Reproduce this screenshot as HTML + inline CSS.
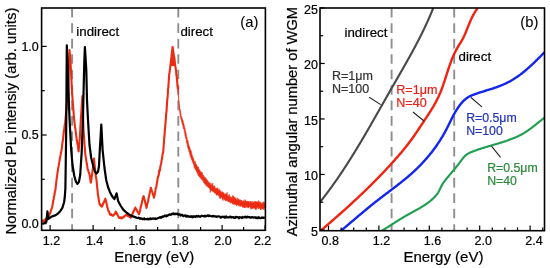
<!DOCTYPE html>
<html><head><meta charset="utf-8">
<style>
html,body{margin:0;padding:0;background:#fff;}
body{width:550px;height:268px;overflow:hidden;position:relative;}
svg{position:absolute;left:0;top:0;will-change:transform;}
.dash{stroke:#8e8e8e;stroke-width:1.9;stroke-dasharray:9.6 5.85;stroke-dashoffset:0.6;}
.tk{stroke:#000;stroke-width:1.2;}
.cv{fill:none;stroke-width:2.4;stroke-linecap:butt;stroke-linejoin:round;}
.ld{stroke:#222;stroke-width:1.1;}
text{font-family:"Liberation Sans",sans-serif;}
</style></head><body>
<svg width="550" height="268" viewBox="0 0 550 268">
<line x1="72.1" y1="8.5" x2="72.1" y2="230" class="dash"/>
<line x1="178.3" y1="8.5" x2="178.3" y2="230" class="dash"/>
<path d="M42 221.37 42.3 221.61 42.6 221.09 42.9 220.89 43.2 220.43 43.5 220.64 43.8 221.16 44.1 220.66 44.4 220.82 44.7 220.27 45 220.2 45.3 219.94 45.6 218.87 45.9 219.98 46.2 219.58 46.5 219.32 46.8 217.96 47.1 217.68 47.4 217.85 47.7 217.8 48 217.93 48.3 217.32 48.6 216.84 48.9 215.49 49.2 215.2 49.5 214.47 49.8 213.18 50.1 213.6 50.4 212.26 50.7 211.81 51 210.14 51.3 209.32 51.6 208.75 51.9 208.1 52.2 207.13 52.5 205.3 52.8 203.32 53.1 201.43 53.4 200.01 53.7 199.25 54 196.6 54.3 195.53 54.6 194.04 54.9 191.49 55.2 190.67 55.5 189.71 55.8 185.99 56.1 183.84 56.4 180.95 56.7 178.19 57 176.75 57.3 174.37 57.6 171.57 57.9 170.61 58.2 168.43 58.5 166.47 58.8 165.17 59.1 163.08 59.4 161.41 59.7 159.16 60 158.57 60.3 156.53 60.6 155.03 60.9 153.23 61.2 151.77 61.5 150.36 61.8 148.81 62.1 145.44 62.4 143.25 62.7 141.39 63 139.38 63.3 136.75 63.6 133.64 63.9 131.09 64.2 129.58 64.5 126.88 64.8 124.4 65.1 122.66 65.4 120.33 65.7 116.83 66 113.65 66.3 110.49 66.6 107.62 66.9 103.31 67.2 97.66 67.5 92.04 67.8 86.2 68.1 82.05 68.4 76.67 68.7 70 69 62.5 69.3 55 69.5 50 69.6 51.11 69.9 54.44 70.2 57.78 70.5 61.87 70.8 67.11 71.1 73.61 71.4 79.45 71.7 85.67 72 91.46 72.3 95.65 72.6 99.58 72.9 103.98 73.2 107.3 73.5 111.13 73.8 115.31 74.1 118.76 74.4 121.3 74.7 124.2 75 126.7 75.3 128.48 75.6 130.54 75.9 133.26 76.2 135.61 76.5 137.91 76.8 140.28 77.1 141.41 77.4 143.95 77.7 145.05 78 147.05 78.3 149.33 78.6 151.34 78.9 148.26 79.2 145.1 79.5 142.04 79.8 138.23 80.1 132.9 80.4 127.22 80.7 121.9 81 117.17 81.3 112.5 81.6 108 81.9 103.5 82.2 99 82.4 96 82.5 99.09 82.8 108.36 83.1 117.64 83.4 126.91 83.7 133 84 136.7 84.3 141 84.6 145.52 84.9 148.29 85.2 152.8 85.5 155.8 85.8 157.69 86.1 159.48 86.4 161.12 86.7 163.29 87 165.02 87.3 166.62 87.6 169.08 87.9 169.5 88.2 170.27 88.5 171.45 88.8 172.45 89.1 173.55 89.4 173.79 89.7 175.51 90 177.7 90.3 179.15 90.6 181.58 90.9 182.64 91.2 180.69 91.5 178.95 91.8 176.06 92.1 174.54 92.4 172.18 92.7 169.88 93 167.11 93.3 164.53 93.6 161.94 93.9 159.36 94 158.5 94.2 160.52 94.5 163.56 94.8 166.6 95.1 169.64 95.4 172.63 95.7 175.35 96 177.29 96.3 178.86 96.6 180.97 96.9 184.43 97.2 187.27 97.5 189.85 97.8 193.74 98.1 195.16 98.4 197.57 98.7 199.02 99 200.94 99.3 202.91 99.6 204.1 99.9 204.64 100.2 204.4 100.5 204.81 100.8 205.86 101.1 205.79 101.4 206.18 101.7 206.46 102 206.62 102.3 205.79 102.6 205.35 102.9 203.96 103.2 203.58 103.5 202.57 103.8 202.48 104.1 202.06 104.4 200.92 104.7 200.25 105 199.59 105.3 198.92 105.4 198.7 105.6 199.54 105.9 200.81 106.2 202.07 106.5 203.34 106.8 204.72 107.1 205.99 107.4 207.58 107.7 208.09 108 209.55 108.3 210.46 108.6 211.25 108.9 211.56 109.2 212.2 109.5 213.53 109.8 214.07 110.1 214.44 110.4 214.98 110.7 214.62 111 214.16 111.3 214.88 111.6 214.59 111.9 215.55 112.2 215.55 112.5 215.42 112.8 215.75 113.1 215.8 113.4 215.21 113.7 215.21 114 214.42 114.3 214.39 114.6 214.15 114.9 213.82 115.2 212.76 115.5 212.86 115.8 211.66 116.1 212.12 116.4 212.38 116.7 213.81 117 213.64 117.3 214.52 117.6 214.99 117.9 215.56 118.2 215.91 118.5 216.68 118.8 217.66 119.1 217.37 119.4 217.59 119.7 217.81 120 217.53 120.3 217.3 120.6 217.59 120.9 218.16 121.2 217.42 121.5 217.81 121.8 218.38 122.1 218.2 122.4 217.76 122.7 217.8 123 217.4 123.3 216.79 123.6 216.47 123.9 216.54 124.2 216.81 124.5 216.16 124.8 215.85 125.1 215.69 125.4 215.25 125.7 215.47 126 214.95 126.3 215.21 126.6 214.54 126.9 215.49 127.2 215.35 127.5 215.1 127.8 216.05 128.1 215.9 128.4 215.46 128.7 216.01 129 216.51 129.3 216.43 129.6 216.95 129.9 217.08 130.2 217.21 130.5 217.25 130.8 217.7 131.1 216.85 131.4 216.14 131.7 214.73 132 214.98 132.3 214.46 132.6 213.33 132.9 212.63 133.2 212.71 133.5 210.95 133.8 210.97 134.1 210.91 134.4 209.26 134.7 209.1 135 208.81 135.3 207.56 135.6 208.31 135.9 208.96 136.2 208.96 136.5 209.75 136.8 210.4 137.1 211.11 137.4 211.39 137.7 211.89 138 212.18 138.3 212.92 138.6 213.84 138.9 214.15 139.2 213.22 139.5 211.98 139.8 211.79 140.1 210.1 140.4 208.7 140.7 206.5 141 206.22 141.3 204.94 141.6 204.06 141.9 202.44 142.2 201.05 142.5 199.99 142.8 198.01 143.1 197.66 143.4 196.21 143.7 196.28 144 198.08 144.3 199.42 144.6 199.64 144.9 201.05 145.2 202.53 145.5 203.69 145.8 204.7 146.1 205.72 146.4 207.84 146.7 207.02 147 205.01 147.3 203.62 147.6 203.2 147.9 201.64 148.2 200.55 148.5 198.91 148.8 197.07 149.1 196.06 149.4 194 149.7 193.08 150 191.92 150.3 191.02 150.6 188.74 150.9 187.85 151.2 188.54 151.5 189.53 151.8 190.78 152.1 191.51 152.4 192.16 152.7 194.04 153 194.54 153.3 194.93 153.6 196.13 153.9 197.65 154.2 196.89 154.5 195.55 154.8 193.89 155.1 192.48 155.4 190.71 155.7 188.33 156 188.05 156.3 186.98 156.6 184.97 156.9 182.97 157.2 181.9 157.5 179.3 157.8 177.15 158.1 177.33 158.4 175.3 158.7 175.27 159 172.62 159.3 170.17 159.6 170.08 159.9 170.76 160.2 168 160.5 165.97 160.8 164.61 161.1 163.75 161.4 161.91 161.7 159.85 162 159.01 162.3 156.6 162.6 154.23 162.9 152.88 163.2 151.85 163.5 148.23 163.8 144.52 164.1 139.19 164.4 136.14 164.7 133.05 165 128.53 165.3 125.8 165.6 121.7 165.9 118.18 166.2 113.55 166.5 111.75 166.8 106.9 167.1 101.94 167.4 98.29 167.7 96.3 168 90.23 168.3 87.27 168.6 83.48 168.9 78.88 169.2 74.12 169.5 72.67 169.8 70.33 170.1 68.44 170.4 65.7 170.7 62.67 171 60.82 171.3 58.11 171.6 55.24 171.9 52.76 172.2 50.29 172.5 47.82 172.6 47 172.8 48.4 173.1 50.5 173.4 52.6 173.7 54.7 174 56.47 174.3 57.39 174.6 60.49 174.9 63.53 175.2 65.62 175.5 67.26 175.8 69.23 176.1 70.44 176.4 74.97 176.7 76.55 177 80.21 177.3 82.73 177.6 86.57 177.9 89.26" fill="none" stroke="#ec2c12" stroke-width="2.1" stroke-linejoin="round"/>
<path d="M172.5 46.26 172.85 47.27 173.2 50.48 173.55 52.73 173.9 55.58 174.25 56.38 174.6 58.87 174.95 61.93 175.3 64.86 175.65 68.05 176 69.69 176.35 71.95 176.7 74.89 177.05 79 177.4 81.91 177.75 86.76 178.1 90.25 178.45 94.53 178.8 100.41 179.15 104.22 179.5 105.44 179.85 109.78 180.2 109.45 180.55 111.49 180.9 114.24 181.25 116.17 181.6 116.87 181.95 117.79 182.3 119.05 182.65 120.01 183 120.42 183.35 122.44 183.7 123.04 184.05 124.77 184.4 126.48 184.75 127.6 185.1 129.16 185.45 130.73 185.8 132.19 186.15 133.41 186.5 136.39 186.85 137.15 187.2 138.82 187.55 141.26 187.9 140.29 188.25 142.69 188.6 143.98 188.95 145.39 189.3 145.91 189.65 146.75 190 148.34 190.35 150.06 190.7 150.34 191.05 150.45 191.4 152.06 191.75 153.8 192.1 154.83 192.45 156.14 192.8 156.66 193.15 157.8 193.5 158.99 193.85 159.34 194.2 160.89 194.55 161.32 194.9 162.01 195.25 161.73 195.6 163.42 195.95 164.85 196.3 164.32 196.65 164.55 197 165.93 197.35 167.44 197.7 166.63 198.05 167.59 198.4 166.88 198.75 168.88 199.1 169.57 199.45 169.98 199.8 169.66 200.15 172.4 200.5 171.44 200.85 171.52 201.2 172.36 201.55 172.44 201.9 171.85 202.25 172.81 202.6 174.33 202.95 175.5 203.3 176.06 203.65 175.24 204 177.17 204.35 176.88 204.7 177.57 205.05 177.57 205.4 177.56 205.75 178.36 206.1 178.32 206.45 180.16 206.8 179.48 207.15 180.44 207.5 180.41 207.85 180.92 208.2 181.15 208.55 181.97 208.9 182.98 209.25 182.78 209.6 182.48 209.95 184.42 210.3 183.47 210.65 185.18 211 183.28 211.35 184.63 211.7 185.44 212.05 185.1 212.4 185.22 212.75 183.07 213.1 185.43 213.45 186.27 213.8 186.44 214.15 187.46 214.5 185.65 214.85 186.27 215.2 188.43 215.55 188.43 215.9 188.26 216.25 188.3 216.6 188.35 216.95 189.14 217.3 188.32 217.65 187.67 218 189.35 218.35 190.03 218.7 191.66 219.05 188.66 219.4 189.97 219.75 190.48 220.1 191.21 220.45 190.6 220.8 191.02 221.15 192.1 221.5 193.01 221.85 192.52 222.2 191.51 222.55 192.84 222.9 192.7 223.25 192.1 223.6 193.54 223.95 192.96 224.3 193.62 224.65 194.33 225 194.15 225.35 193.86 225.7 194.09 226.05 194.92 226.4 193.69 226.75 194.07 227.1 192.34 227.45 194.91 227.8 196.05 228.15 195.6 228.5 195.75 228.85 196.89 229.2 194.37 229.55 196.7 229.9 197.11 230.25 196.77 230.6 196.81 230.95 197.13 231.3 196.8 231.65 197.93 232 198.54 232.35 198.42 232.7 195.35 233.05 197.47 233.4 195.94 233.75 196.58 234.1 197.62 234.45 196.95 234.8 198.18 235.15 199.16 235.5 198.3 235.85 197.59 236.2 198.87 236.55 200.03 236.9 199.92 237.25 199.49 237.6 197.79 237.95 199.25 238.3 199.3 238.65 199.29 239 199.43 239.35 199.91 239.7 199.66 240.05 200.96 240.4 199.67 240.75 200.77 241.1 201.02 241.45 200.75 241.8 200.03 242.15 201.59 242.5 201.95 242.85 201.15 243.2 200.67 243.55 200.68 243.9 201.04 244.25 202.33 244.6 201.45 244.95 199.49 245.3 201.41 245.65 200.7 246 200.72 246.35 201.67 246.7 201.19 247.05 201.79 247.4 200.9 247.75 201.77 248.1 201.94 248.45 201.18 248.8 201.55 249.15 201.33 249.5 202.33 249.85 202.42 250.2 201.35 250.55 201.76 250.9 201.37 251.25 202.68 251.6 201.75 251.95 201.73 252.3 201.27 252.65 202.78 253 202.58 253.35 202.6 253.7 201.87 254.05 202.52 254.4 201.27 254.75 202.49 255.1 202.61 255.45 201.28 255.8 201.64 256.15 201.55 256.5 202.14 256.85 201.69 257.2 201.83 257.55 201.66 257.9 202.77 258.25 201.97 258.6 200.56 258.95 203.29 259.3 201.47 259.65 203.23 260 202.44 260.35 201.88 260.7 203.54 261.05 202.62 261.4 203.4 261.75 203.81 262.1 203.5 262.45 202.56 262.8 204.5 263.15 203.16 263.5 201.75 263.85 203.14 264.2 202.25 264.55 202.3 264.9 203.27 L264.9 208.04 264.55 208.36 264.2 208.39 263.85 209.93 263.5 207.94 263.15 209.16 262.8 208.61 262.45 208.11 262.1 208.98 261.75 208.43 261.4 209.58 261.05 208.45 260.7 210.01 260.35 208.64 260 208.41 259.65 207.45 259.3 208.46 258.95 208.43 258.6 208.9 258.25 207.83 257.9 207.62 257.55 207.63 257.2 207.74 256.85 209.3 256.5 208.55 256.15 207.92 255.8 210.05 255.45 208.53 255.1 207.63 254.75 208.72 254.4 208.05 254.05 208.31 253.7 207.46 253.35 208.01 253 208.55 252.65 207.97 252.3 208.54 251.95 208.8 251.6 208.68 251.25 208.11 250.9 209.29 250.55 207.28 250.2 207.41 249.85 206.63 249.5 207.12 249.15 206.02 248.8 207.48 248.45 208.13 248.1 206.87 247.75 206.92 247.4 207.57 247.05 206.66 246.7 206.21 246.35 207.3 246 206.7 245.65 207.64 245.3 206.31 244.95 207.5 244.6 207.04 244.25 207.99 243.9 206.53 243.55 207.22 243.2 207.1 242.85 207.54 242.5 206.84 242.15 206.82 241.8 205.58 241.45 205.77 241.1 206.28 240.75 205.98 240.4 205.94 240.05 206.54 239.7 204.83 239.35 205.36 239 206.34 238.65 204.92 238.3 204.84 237.95 205.09 237.6 204.66 237.25 204.78 236.9 205.17 236.55 206.13 236.2 203.99 235.85 205.01 235.5 204.48 235.15 203.38 234.8 204.21 234.45 203.25 234.1 204.91 233.75 202.84 233.4 203.77 233.05 203.6 232.7 204.25 232.35 203.7 232 203.44 231.65 202.43 231.3 202.63 230.95 201.43 230.6 202.61 230.25 203.35 229.9 202.09 229.55 201.02 229.2 202.19 228.85 201.94 228.5 201.47 228.15 201.53 227.8 200.3 227.45 201.28 227.1 201.15 226.75 200.78 226.4 200.02 226.05 199.99 225.7 201.19 225.35 200.04 225 199.68 224.65 199.04 224.3 199.47 223.95 200.38 223.6 198.44 223.25 198.23 222.9 199.34 222.55 200.41 222.2 198.05 221.85 197.47 221.5 197.12 221.15 197.1 220.8 198.25 220.45 198.34 220.1 198.88 219.75 197.28 219.4 197.54 219.05 194.87 218.7 196.04 218.35 194.61 218 195.36 217.65 194.5 217.3 195.17 216.95 194.81 216.6 195.06 216.25 195.21 215.9 193.99 215.55 193.37 215.2 193.17 214.85 193.45 214.5 191.66 214.15 192.61 213.8 192.09 213.45 191.75 213.1 191.44 212.75 191.56 212.4 191.33 212.05 191.03 211.7 190.9 211.35 190.51 211 190.49 210.65 190.51 210.3 192.59 209.95 189.78 209.6 188.63 209.25 187.79 208.9 187.7 208.55 187.49 208.2 187.63 207.85 186.83 207.5 186.78 207.15 185.65 206.8 184.1 206.45 185.99 206.1 186.21 205.75 184.22 205.4 184.31 205.05 184.58 204.7 183.63 204.35 183.03 204 182.98 203.65 182.67 203.3 180.52 202.95 181.03 202.6 180.5 202.25 179.69 201.9 179.54 201.55 179.6 201.2 177.47 200.85 178.74 200.5 177.87 200.15 176.95 199.8 177.05 199.45 177.07 199.1 176.65 198.75 175.63 198.4 175.27 198.05 175.62 197.7 173.28 197.35 173.43 197 171.95 196.65 171.83 196.3 171.17 195.95 170.81 195.6 169.3 195.25 169.28 194.9 168.65 194.55 167.84 194.2 167.7 193.85 164.94 193.5 164.37 193.15 163.07 192.8 162.64 192.45 161.76 192.1 160.71 191.75 160.09 191.4 158.47 191.05 158.55 190.7 157.11 190.35 156.7 190 154.48 189.65 153.96 189.3 152.26 188.95 151.68 188.6 149.27 188.25 149.31 187.9 147.94 187.55 146.91 187.2 144.57 186.85 143.19 186.5 142.86 186.15 139.32 185.8 138.54 185.45 136.9 185.1 136.19 184.75 133.56 184.4 132.24 184.05 128.18 183.7 129.05 183.35 128.64 183 125.92 182.65 124.25 182.3 124.39 181.95 122.5 181.6 121.58 181.25 119.64 180.9 118.78 180.55 117.45 180.2 115.84 179.85 113.23 179.5 110.25 179.15 106.46 178.8 102.17 178.45 98.11 178.1 93.98 177.75 89.92 177.4 86.69 177.05 82.39 176.7 78.43 176.35 75.13 176 71.88 175.65 69.68 175.3 65.42 174.95 64.76 174.6 61.91 174.25 59.67 173.9 56.59 173.55 54.97 173.2 52.62 172.85 48.79 172.5 49.48Z" fill="#ec2c12" stroke="#ec2c12" stroke-width="0.6" stroke-linejoin="round"/>
<path d="M170.6 66 L172.6 47 L174.9 66Z" fill="#ec2c12"/>
<path d="M42.2 224 44 223.2 46.4 221.8 47.4 211.4 48.4 219 51.2 216.8 55.7 215.1 58 213.5 60.2 211.2 62.4 207.8 64.1 202.2 64.8 197 65.4 188 65.8 160 66.2 130 66.5 90 66.8 45.4 68.2 75 68.8 100 69.6 120 71.2 150 72.5 165 74.2 175.5 75.9 181.6 77.4 183.8 78.9 182 80.2 175 81.7 152 82.9 120 83.6 90 84.3 62 84.9 47.1 86.3 70 87 100 88 120 89.5 145 91.2 158 93.5 167 95 171.6 96.5 173.5 98 171.8 99 166 99.8 150 101.3 124.5 102.6 150 104.5 168 106.2 180 108 187 109.9 191.9 112 196 114.4 199.2 116.6 193.4 118.1 200.9 120.5 205.5 123.4 209.9 127 213 130.8 215.6 135 217.15 135.48 217.18 135.97 217.62 136.46 217.6 136.95 217.9 137.44 218.06 137.93 218.2 138.43 217.55 138.93 218.14 139.42 218.16 139.92 218.71 140.42 218.09 140.92 218.42 141.42 218.61 141.92 218.66 142.43 219.11 142.93 218.73 143.44 219.19 143.94 218.49 144.45 218.42 144.95 219.35 145.46 219.14 145.97 219.17 146.47 219.06 146.98 219.17 147.49 218.66 147.99 219.3 148.5 218.85 149.01 219.28 149.52 218.99 150.02 218.35 150.53 218.52 151.04 219.21 151.54 218.79 152.05 218.67 152.55 218.81 153.06 218.56 153.56 218.47 154.06 218.6 154.57 218.55 155.07 218.9 155.57 218.39 156.07 218.86 156.57 218.76 157.06 218.65 157.56 218.37 158.06 218 158.55 217.91 159.05 217.72 159.54 217.44 160.04 217.53 160.53 217.24 161.02 217.81 161.51 217.35 162.01 216.92 162.5 216.34 162.99 216.76 163.48 216.5 163.97 216.14 164.46 215.97 164.95 215.47 165.44 216.15 165.92 215.79 166.41 216.42 166.9 215.47 167.39 215.27 167.88 215.59 168.36 215.03 168.85 214.89 169.34 214.58 169.83 214.36 170.31 214.86 170.8 214.58 171.29 214.68 171.78 213.96 172.26 213.98 172.75 213.64 173.24 214.13 173.72 213.38 174.21 213.95 174.69 214.11 175.18 214.22 175.67 213.55 176.15 214.21 176.64 213.74 177.13 213.8 177.61 213.72 178.1 214.57 178.59 214.82 179.07 214.27 179.56 214.34 180.05 214.59 180.54 215.58 181.03 215.26 181.51 214.93 182 214.68 182.5 215.15 182.99 215.83 183.48 216.16 183.97 215.63 184.47 215.61 184.96 215.77 185.45 215.45 185.95 216.38 186.45 215.87 186.94 216.6 187.44 215.84 187.94 216.04 188.44 216.57 188.94 216.31 189.44 216.82 189.94 216.63 190.44 216.31 190.94 216.88 191.44 216.97 191.94 216.16 192.45 217.29 192.95 216.89 193.45 216.97 193.96 216.17 194.46 216.5 194.97 216.6 195.47 217 195.98 216.21 196.48 216.36 196.99 215.98 197.5 216.48 198 216.62 198.51 215.97 199.02 216.25 199.52 216.54 200.03 216.82 200.54 216.5 201.04 216.17 201.55 215.86 202.06 215.89 202.57 215.94 203.07 216.14 203.58 216.05 204.09 216.53 204.6 216.08 205.1 215.65 205.61 216.41 206.12 216.22 206.62 215.95 207.13 215.69 207.64 215.35 208.14 215.6 208.65 216.19 209.15 215.68 209.66 215.54 210.17 216.02 210.67 216.05 211.18 216.19 211.68 216.23 212.19 216.49 212.69 215.85 213.2 216.43 213.7 215.88 214.21 216.43 214.71 216.31 215.21 216.38 215.72 216.64 216.22 216.39 216.73 216.78 217.23 216.75 217.74 216.58 218.24 216.42 218.75 216.41 219.25 216.52 219.76 216.67 220.26 216.76 220.76 217.71 221.27 217.05 221.77 217.13 222.28 216.68 222.78 216.76 223.29 216.91 223.79 217.1 224.3 216.76 224.81 217.59 225.31 216.96 225.82 217.48 226.32 216.48 226.83 217.2 227.33 217.31 227.84 217.3 228.35 217.44 228.85 217.36 229.36 217.34 229.86 216.74 230.37 217.11 230.88 216.63 231.38 217.53 231.89 217.45 232.4 217.3 232.9 217.12 233.41 217.2 233.92 217.93 234.42 217.9 234.93 217.37 235.44 217.78 235.94 216.92 236.45 216.82 236.96 217.25 237.46 217.14 237.97 217.23 238.48 217.45 238.98 218.3 239.49 217.2 240 217.41 240.5 217.47 241.01 217.38 241.52 217.67 242.03 217.92 242.53 217.01 243.04 217.43 243.55 217.3 244.05 217.48 244.56 216.91 245.07 216.85 245.57 216.68 246.08 217.53 246.59 217.43 247.09 217.39 247.6 216.66 248.11 217.26 248.61 217.14 249.12 216.95 249.63 217.1 250.13 217.59 250.64 217.54 251.15 217.38 251.65 217.55 252.16 217.22 252.67 217.43 253.17 217.43 253.68 217.59 254.19 217.41 254.69 217.4 255.2 217.42 255.7 217.28 256.21 218.16 256.72 217.66 257.22 217.65 257.73 218.23 258.23 217.98 258.74 217.12 259.24 217.82 259.75 217.89 260.26 218.23 260.76 218.09 261.27 217.96 261.77 217.41 262.28 217.53 262.78 217.91 263.29 218.02 263.79 217.61 264.3 217.84 264.8 217.88" fill="none" stroke="#000" stroke-width="2.2" stroke-linejoin="round"/>
<rect x="41.6" y="8" width="223.8" height="222.3" fill="none" stroke="#000" stroke-width="1.6"/>
<line x1="50.1" y1="230" x2="50.1" y2="225" class="tk"/>
<line x1="93.1" y1="230" x2="93.1" y2="225" class="tk"/>
<line x1="114.6" y1="230" x2="114.6" y2="227" class="tk"/>
<line x1="136.1" y1="230" x2="136.1" y2="225" class="tk"/>
<line x1="157.6" y1="230" x2="157.6" y2="227" class="tk"/>
<line x1="200.6" y1="230" x2="200.6" y2="227" class="tk"/>
<line x1="222.1" y1="230" x2="222.1" y2="225" class="tk"/>
<line x1="243.6" y1="230" x2="243.6" y2="227" class="tk"/>
<line x1="265.1" y1="230" x2="265.1" y2="225" class="tk"/>
<line x1="41.6" y1="223.6" x2="46.6" y2="223.6" class="tk"/>
<line x1="41.6" y1="179.3" x2="44.8" y2="179.3" class="tk"/>
<line x1="41.6" y1="135" x2="46.6" y2="135" class="tk"/>
<line x1="41.6" y1="90.7" x2="44.8" y2="90.7" class="tk"/>
<line x1="41.6" y1="46.4" x2="46.6" y2="46.4" class="tk"/>
<line x1="391.6" y1="8.5" x2="391.6" y2="230.5" class="dash"/>
<line x1="454.2" y1="8.5" x2="454.2" y2="230.5" class="dash"/>
<defs><clipPath id="cr"><rect x="320" y="8" width="224.5" height="222.7"/></clipPath><clipPath id="cl"><rect x="41.6" y="8" width="223.8" height="222.3"/></clipPath></defs><g clip-path="url(#cr)">
<path d="M319.58 202.65 320.06 202.06 320.53 201.47 321 200.88 321.47 200.29 321.93 199.69 322.4 199.1 322.87 198.5 323.33 197.9 323.79 197.31 324.25 196.71 324.71 196.11 325.17 195.51 325.63 194.91 326.09 194.31 326.54 193.7 327 193.1 327.45 192.5 327.9 191.89 328.35 191.29 328.8 190.68 329.25 190.07 329.7 189.46 330.14 188.86 330.59 188.25 331.03 187.64 331.48 187.03 331.92 186.41 332.36 185.8 332.8 185.19 333.24 184.58 333.67 183.96 334.11 183.35 334.55 182.73 334.98 182.11 335.41 181.5 335.85 180.88 336.28 180.26 336.71 179.64 337.14 179.02 337.57 178.4 337.99 177.78 338.42 177.16 338.84 176.54 339.27 175.91 339.69 175.29 340.12 174.67 340.54 174.04 340.96 173.42 341.38 172.79 341.8 172.16 342.22 171.54 342.63 170.91 343.05 170.28 343.46 169.65 343.88 169.02 344.29 168.39 344.71 167.76 345.12 167.13 345.53 166.5 345.94 165.87 346.35 165.23 346.76 164.6 347.17 163.97 347.57 163.33 347.98 162.7 348.39 162.06 348.79 161.43 349.2 160.79 349.6 160.15 350 159.52 350.41 158.88 350.81 158.24 351.21 157.6 351.61 156.96 352.01 156.32 352.41 155.68 352.8 155.04 353.2 154.4 353.6 153.76 353.99 153.12 354.39 152.48 354.79 151.84 355.18 151.19 355.57 150.55 355.97 149.91 356.36 149.26 356.75 148.62 357.14 147.97 357.53 147.33 357.92 146.68 358.31 146.04 358.7 145.39 359.09 144.74 359.48 144.1 359.87 143.45 360.25 142.8 360.64 142.15 361.03 141.5 361.41 140.86 361.8 140.21 362.18 139.56 362.57 138.91 362.95 138.26 363.33 137.61 363.72 136.96 364.1 136.31 364.48 135.65 364.86 135 365.25 134.35 365.63 133.7 366.01 133.05 366.39 132.4 366.77 131.74 367.15 131.09 367.53 130.44 367.91 129.78 368.28 129.13 368.66 128.48 369.04 127.82 369.42 127.17 369.8 126.51 370.17 125.86 370.55 125.21 370.93 124.55 371.3 123.9 371.68 123.24 372.05 122.59 372.43 121.93 372.81 121.27 373.18 120.62 373.56 119.96 373.93 119.31 374.3 118.65 374.68 117.99 375.05 117.34 375.43 116.68 375.8 116.02 376.18 115.37 376.55 114.71 376.92 114.05 377.3 113.4 377.67 112.74 378.04 112.08 378.42 111.43 378.79 110.77 379.16 110.11 379.54 109.45 379.91 108.8 380.28 108.14 380.65 107.48 381.03 106.82 381.4 106.17 381.77 105.51 382.14 104.85 382.52 104.19 382.89 103.54 383.26 102.88 383.64 102.22 384.01 101.56 384.38 100.91 384.75 100.25 385.13 99.59 385.5 98.93 385.87 98.28 386.25 97.62 386.62 96.96 386.99 96.31 387.37 95.65 387.74 94.99 388.11 94.33 388.49 93.68 388.86 93.02 389.24 92.36 389.61 91.71 389.99 91.05 390.36 90.39 390.74 89.74 391.11 89.08 391.49 88.43 391.86 87.77 392.24 87.12 392.61 86.46 392.99 85.8 393.37 85.15 393.74 84.49 394.12 83.84 394.5 83.18 394.87 82.53 395.25 81.87 395.63 81.22 396 80.56 396.38 79.91 396.76 79.25 397.14 78.6 397.51 77.95 397.89 77.29 398.27 76.64 398.64 75.98 399.02 75.33 399.4 74.67 399.77 74.02 400.15 73.36 400.53 72.71 400.9 72.05 401.28 71.4 401.65 70.74 402.03 70.09 402.4 69.43 402.78 68.77 403.15 68.12 403.53 67.46 403.9 66.81 404.27 66.15 404.65 65.49 405.02 64.84 405.39 64.18 405.76 63.52 406.14 62.87 406.51 62.21 406.88 61.55 407.25 60.89 407.62 60.24 407.99 59.58 408.35 58.92 408.72 58.26 409.09 57.6 409.46 56.94 409.82 56.28 410.19 55.62 410.55 54.96 410.92 54.3 411.28 53.64 411.64 52.98 412.01 52.32 412.37 51.66 412.73 51 413.09 50.33 413.45 49.67 413.81 49.01 414.16 48.34 414.52 47.68 414.88 47.01 415.23 46.35 415.58 45.68 415.94 45.02 416.29 44.35 416.64 43.68 416.99 43.02 417.34 42.35 417.69 41.68 418.04 41.01 418.38 40.34 418.73 39.67 419.07 39 419.42 38.33 419.76 37.66 420.1 36.99 420.44 36.31 420.78 35.64 421.12 34.97 421.45 34.29 421.79 33.62 422.12 32.94 422.45 32.27 422.79 31.59 423.12 30.91 423.44 30.23 423.77 29.55 424.1 28.87 424.42 28.19 424.75 27.51 425.07 26.83 425.39 26.15 425.71 25.47 426.03 24.78 426.34 24.1 426.66 23.41 426.97 22.73 427.28 22.04 427.6 21.35 427.9 20.66 428.21 19.98 428.52 19.29 428.82 18.59 429.12 17.9 429.43 17.21 429.73 16.52 430.02 15.82 430.32 15.13 430.61 14.43 430.91 13.74 431.2 13.04 431.49 12.34 431.77 11.64 432.06 10.94 432.34 10.24 432.63 9.54 432.91 8.84 433.19 8.13" class="cv" stroke="#4a4a4a" style="stroke-width:2.15"/>
<path d="M319.14 231.94 319.86 231.33 320.57 230.73 321.28 230.13 321.99 229.52 322.7 228.92 323.41 228.31 324.12 227.71 324.83 227.1 325.54 226.5 326.25 225.89 326.96 225.28 327.67 224.67 328.38 224.06 329.08 223.45 329.79 222.84 330.5 222.23 331.2 221.62 331.91 221.01 332.61 220.4 333.32 219.79 334.02 219.17 334.72 218.56 335.43 217.95 336.13 217.33 336.83 216.72 337.53 216.1 338.23 215.48 338.93 214.86 339.63 214.25 340.33 213.63 341.03 213.01 341.72 212.39 342.42 211.77 343.12 211.15 343.81 210.52 344.51 209.9 345.2 209.28 345.89 208.65 346.59 208.03 347.28 207.4 347.97 206.77 348.66 206.15 349.35 205.52 350.04 204.89 350.73 204.26 351.42 203.63 352.1 203 352.79 202.37 353.48 201.73 354.16 201.1 354.84 200.47 355.53 199.83 356.21 199.2 356.89 198.56 357.57 197.92 358.25 197.28 358.93 196.64 359.61 196 360.29 195.36 360.96 194.72 361.64 194.08 362.32 193.43 362.99 192.79 363.66 192.14 364.33 191.5 365.01 190.85 365.68 190.2 366.35 189.55 367.02 188.9 367.68 188.25 368.35 187.6 369.02 186.95 369.68 186.29 370.34 185.64 371.01 184.98 371.67 184.32 372.33 183.67 372.99 183.01 373.65 182.35 374.31 181.69 374.96 181.02 375.62 180.36 376.27 179.7 376.93 179.03 377.58 178.37 378.23 177.7 378.88 177.03 379.53 176.36 380.18 175.69 380.83 175.02 381.47 174.35 382.12 173.67 382.76 173 383.41 172.32 384.05 171.65 384.69 170.97 385.33 170.29 385.97 169.61 386.6 168.93 387.24 168.25 387.87 167.56 388.51 166.88 389.14 166.19 389.77 165.5 390.4 164.82 391.03 164.13 391.65 163.44 392.28 162.74 392.91 162.05 393.53 161.36 394.15 160.66 394.77 159.96 395.39 159.26 396.01 158.57 396.63 157.86 397.24 157.16 397.86 156.46 398.47 155.75 399.08 155.05 399.69 154.34 400.29 153.63 400.89 152.92 401.5 152.2 402.1 151.49 402.69 150.77 403.29 150.05 403.88 149.33 404.47 148.61 405.05 147.88 405.64 147.15 406.22 146.42 406.8 145.69 407.37 144.96 407.94 144.22 408.51 143.48 409.08 142.74 409.64 142 410.2 141.25 410.75 140.5 411.3 139.75 411.85 139 412.39 138.24 412.93 137.48 413.47 136.72 414 135.96 414.54 135.19 415.07 134.43 415.59 133.66 416.12 132.89 416.64 132.12 417.17 131.34 417.69 130.57 418.21 129.79 418.72 129.02 419.24 128.24 419.76 127.47 420.27 126.69 420.79 125.91 421.3 125.13 421.82 124.35 422.34 123.57 422.85 122.79 423.37 122.02 423.89 121.24 424.4 120.46 424.92 119.68 425.44 118.9 425.95 118.12 426.47 117.34 426.98 116.56 427.5 115.78 428.01 115 428.51 114.21 429.02 113.43 429.52 112.64 430.02 111.85 430.52 111.07 431.02 110.27 431.51 109.48 431.99 108.69 432.48 107.89 432.95 107.09 433.43 106.29 433.89 105.48 434.36 104.68 434.81 103.87 435.26 103.06 435.71 102.24 436.15 101.42 436.58 100.6 437 99.78 437.42 98.95 437.83 98.11 438.24 97.28 438.63 96.44 439.02 95.59 439.39 94.75 439.76 93.89 440.13 93.04 440.48 92.18 440.83 91.32 441.17 90.45 441.51 89.58 441.84 88.71 442.16 87.84 442.48 86.96 442.8 86.08 443.11 85.2 443.42 84.32 443.72 83.43 444.02 82.55 444.32 81.66 444.61 80.77 444.9 79.88 445.19 78.99 445.48 78.1 445.77 77.21 446.06 76.31 446.34 75.42 446.63 74.53 446.91 73.64 447.2 72.74 447.49 71.85 447.78 70.96 448.07 70.07 448.36 69.18 448.66 68.3 448.95 67.41 449.26 66.52 449.56 65.64 449.87 64.76 450.18 63.88 450.5 63.01 450.82 62.13 451.15 61.26 451.48 60.39 451.82 59.53 452.16 58.66 452.51 57.81 452.87 56.95 453.24 56.1 453.61 55.25 453.99 54.41 454.38 53.57 454.78 52.73 455.19 51.9 455.6 51.07 456.03 50.25 456.47 49.44 456.92 48.63 457.37 47.82 457.84 47.02 458.32 46.23 458.81 45.43 459.29 44.64 459.78 43.85 460.27 43.06 460.76 42.27 461.23 41.47 461.71 40.67 462.17 39.86 462.61 39.05 463.05 38.23 463.47 37.4 463.87 36.56 464.27 35.72 464.65 34.87 465.03 34.02 465.39 33.16 465.75 32.3 466.11 31.44 466.46 30.57 466.81 29.7 467.15 28.83 467.5 27.96 467.84 27.09 468.19 26.22 468.54 25.36 468.89 24.49 469.25 23.63 469.61 22.76 469.98 21.91 470.35 21.05 470.73 20.2 471.12 19.35 471.52 18.5 471.92 17.66 472.33 16.83 472.76 16 473.19 15.17 473.64 14.35 474.09 13.54 474.56 12.73 475.04 11.93 475.54 11.14 476.05 10.35 476.58 9.57 477.12 8.8 477.68 8.04" class="cv" stroke="#f0230f"/>
<path d="M340.46 231.16 341.18 230.57 341.89 229.97 342.61 229.38 343.32 228.78 344.04 228.18 344.75 227.59 345.46 226.99 346.17 226.39 346.88 225.79 347.59 225.19 348.3 224.59 349.01 223.99 349.72 223.39 350.43 222.79 351.13 222.19 351.84 221.59 352.55 220.99 353.26 220.39 353.96 219.79 354.67 219.19 355.38 218.59 356.08 217.99 356.79 217.39 357.5 216.79 358.2 216.19 358.91 215.59 359.62 215 360.33 214.4 361.04 213.8 361.75 213.21 362.45 212.61 363.16 212.01 363.88 211.42 364.59 210.83 365.3 210.23 366.01 209.64 366.73 209.05 367.44 208.46 368.16 207.87 368.87 207.29 369.59 206.7 370.31 206.12 371.03 205.53 371.75 204.95 372.47 204.37 373.19 203.79 373.92 203.21 374.65 202.63 375.37 202.06 376.1 201.49 376.83 200.91 377.57 200.34 378.3 199.77 379.03 199.21 379.77 198.64 380.51 198.07 381.24 197.51 381.98 196.94 382.72 196.38 383.46 195.82 384.2 195.26 384.94 194.69 385.68 194.13 386.43 193.57 387.17 193.01 387.91 192.45 388.65 191.89 389.39 191.33 390.14 190.77 390.88 190.21 391.62 189.64 392.36 189.08 393.1 188.52 393.84 187.95 394.58 187.39 395.31 186.82 396.05 186.26 396.78 185.69 397.52 185.12 398.25 184.55 398.98 183.98 399.71 183.4 400.44 182.83 401.17 182.25 401.9 181.67 402.62 181.09 403.34 180.51 404.06 179.92 404.78 179.33 405.5 178.74 406.21 178.15 406.92 177.55 407.63 176.96 408.34 176.36 409.04 175.75 409.74 175.15 410.44 174.54 411.13 173.92 411.82 173.31 412.51 172.69 413.2 172.06 413.88 171.44 414.56 170.81 415.24 170.17 415.91 169.53 416.58 168.89 417.24 168.25 417.9 167.6 418.56 166.95 419.22 166.29 419.87 165.63 420.51 164.97 421.16 164.3 421.8 163.63 422.43 162.95 423.06 162.28 423.69 161.59 424.32 160.91 424.94 160.22 425.55 159.53 426.17 158.83 426.77 158.13 427.38 157.43 427.98 156.72 428.57 156.01 429.17 155.3 429.75 154.58 430.34 153.86 430.92 153.14 431.49 152.41 432.06 151.68 432.63 150.95 433.19 150.21 433.75 149.47 434.3 148.72 434.85 147.97 435.39 147.22 435.93 146.47 436.47 145.71 437 144.95 437.52 144.18 438.04 143.42 438.56 142.64 439.07 141.87 439.58 141.09 440.08 140.31 440.57 139.52 441.07 138.73 441.55 137.94 442.04 137.15 442.51 136.35 442.98 135.55 443.45 134.74 443.91 133.94 444.37 133.12 444.82 132.31 445.27 131.49 445.71 130.67 446.14 129.85 446.57 129.02 447 128.19 447.42 127.36 447.84 126.52 448.26 125.69 448.67 124.85 449.08 124.01 449.5 123.17 449.91 122.34 450.32 121.5 450.73 120.66 451.15 119.83 451.56 119 451.98 118.16 452.41 117.34 452.83 116.51 453.27 115.69 453.7 114.87 454.15 114.06 454.59 113.25 455.05 112.44 455.52 111.64 455.99 110.85 456.47 110.06 456.96 109.28 457.46 108.5 457.97 107.74 458.5 106.98 459.03 106.23 459.58 105.49 460.14 104.75 460.72 104.03 461.31 103.32 461.91 102.62 462.53 101.94 463.17 101.27 463.82 100.62 464.49 99.99 465.18 99.39 465.89 98.81 466.62 98.25 467.36 97.73 468.13 97.23 468.92 96.76 469.73 96.33 470.56 95.92 471.4 95.54 472.25 95.18 473.12 94.83 473.99 94.51 474.87 94.19 475.75 93.87 476.63 93.57 477.51 93.27 478.4 92.98 479.29 92.69 480.17 92.4 481.06 92.12 481.95 91.84 482.84 91.56 483.73 91.29 484.62 91.02 485.51 90.75 486.41 90.47 487.3 90.2 488.19 89.93 489.08 89.65 489.97 89.38 490.86 89.1 491.75 88.81 492.63 88.53 493.52 88.24 494.41 87.94 495.29 87.64 496.17 87.33 497.05 87.02 497.92 86.7 498.8 86.37 499.67 86.04 500.54 85.7 501.4 85.35 502.26 85 503.12 84.63 503.97 84.26 504.82 83.88 505.66 83.49 506.5 83.09 507.33 82.69 508.16 82.27 508.98 81.84 509.79 81.4 510.6 80.96 511.4 80.5 512.2 80.03 512.99 79.56 513.78 79.07 514.56 78.58 515.34 78.07 516.11 77.56 516.87 77.05 517.63 76.52 518.39 75.98 519.14 75.44 519.89 74.89 520.63 74.34 521.36 73.77 522.1 73.21 522.82 72.63 523.55 72.05 524.27 71.46 524.99 70.87 525.7 70.27 526.41 69.67 527.11 69.06 527.81 68.45 528.51 67.83 529.2 67.21 529.9 66.58 530.58 65.95 531.27 65.32 531.95 64.68 532.63 64.05 533.31 63.4 533.98 62.76 534.65 62.11 535.32 61.46 535.99 60.81 536.65 60.16 537.31 59.51 537.97 58.85 538.63 58.2 539.29 57.54 539.94 56.88 540.6 56.23 541.25 55.57 541.9 54.91 542.55 54.26 543.2 53.6 543.84 52.95 544.49 52.29" class="cv" stroke="#1326ee"/>
<path d="M380.83 231.3 381.41 230.96 382 230.62 382.59 230.27 383.17 229.92 383.75 229.57 384.34 229.22 384.92 228.86 385.5 228.51 386.08 228.15 386.65 227.79 387.23 227.43 387.81 227.07 388.38 226.7 388.95 226.34 389.53 225.97 390.1 225.61 390.68 225.24 391.25 224.87 391.82 224.51 392.39 224.14 392.97 223.77 393.54 223.4 394.11 223.03 394.69 222.67 395.26 222.3 395.83 221.93 396.41 221.56 396.98 221.2 397.56 220.83 398.14 220.47 398.72 220.11 399.29 219.74 399.87 219.38 400.45 219.02 401.04 218.67 401.62 218.31 402.2 217.96 402.79 217.6 403.38 217.25 403.97 216.91 404.56 216.56 405.15 216.22 405.75 215.87 406.34 215.54 406.94 215.2 407.54 214.86 408.14 214.53 408.74 214.2 409.35 213.87 409.95 213.54 410.55 213.21 411.16 212.88 411.76 212.55 412.37 212.22 412.97 211.89 413.58 211.56 414.18 211.23 414.78 210.9 415.39 210.57 415.99 210.24 416.59 209.91 417.19 209.57 417.79 209.23 418.39 208.9 418.98 208.56 419.57 208.21 420.17 207.87 420.75 207.52 421.34 207.17 421.93 206.81 422.51 206.45 423.09 206.09 423.66 205.72 424.24 205.35 424.81 204.98 425.37 204.6 425.94 204.22 426.5 203.83 427.05 203.44 427.6 203.04 428.15 202.63 428.7 202.22 429.23 201.81 429.77 201.39 430.3 200.96 430.82 200.52 431.34 200.08 431.85 199.63 432.36 199.18 432.86 198.72 433.36 198.24 433.85 197.77 434.34 197.28 434.81 196.78 435.28 196.28 435.73 195.77 436.18 195.25 436.61 194.71 437.03 194.17 437.43 193.62 437.81 193.06 438.18 192.49 438.53 191.9 438.86 191.31 439.18 190.7 439.48 190.09 439.78 189.48 440.07 188.86 440.36 188.24 440.65 187.62 440.94 187 441.24 186.39 441.56 185.78 441.88 185.19 442.22 184.6 442.57 184.02 442.94 183.45 443.32 182.88 443.7 182.32 444.1 181.77 444.51 181.22 444.92 180.68 445.34 180.14 445.77 179.61 446.2 179.08 446.63 178.55 447.07 178.02 447.51 177.5 447.95 176.97 448.39 176.45 448.83 175.92 449.27 175.4 449.71 174.88 450.15 174.36 450.59 173.83 451.03 173.31 451.47 172.79 451.91 172.26 452.35 171.74 452.79 171.22 453.23 170.69 453.67 170.17 454.1 169.64 454.54 169.11 454.97 168.58 455.4 168.05 455.83 167.52 456.26 166.99 456.69 166.45 457.11 165.92 457.54 165.38 457.96 164.84 458.38 164.29 458.79 163.75 459.21 163.2 459.62 162.65 460.03 162.1 460.44 161.54 460.84 160.99 461.26 160.44 461.67 159.89 462.09 159.35 462.51 158.82 462.94 158.29 463.37 157.77 463.82 157.27 464.28 156.77 464.74 156.29 465.22 155.82 465.72 155.37 466.23 154.94 466.75 154.53 467.29 154.13 467.86 153.76 468.44 153.41 469.03 153.08 469.64 152.76 470.26 152.46 470.89 152.18 471.54 151.91 472.18 151.65 472.84 151.39 473.49 151.15 474.15 150.91 474.81 150.67 475.46 150.44 476.12 150.21 476.77 149.99 477.42 149.76 478.08 149.54 478.73 149.33 479.38 149.11 480.04 148.9 480.69 148.69 481.34 148.48 481.99 148.27 482.64 148.07 483.29 147.87 483.94 147.67 484.59 147.47 485.25 147.27 485.9 147.08 486.55 146.88 487.2 146.69 487.85 146.49 488.51 146.3 489.16 146.11 489.81 145.92 490.47 145.73 491.12 145.54 491.78 145.35 492.44 145.16 493.09 144.97 493.75 144.78 494.41 144.59 495.06 144.39 495.72 144.2 496.38 144.01 497.03 143.82 497.69 143.62 498.35 143.43 499 143.23 499.66 143.03 500.32 142.83 500.97 142.63 501.63 142.43 502.28 142.22 502.93 142.02 503.58 141.81 504.24 141.6 504.89 141.38 505.54 141.17 506.19 140.95 506.83 140.73 507.48 140.5 508.12 140.28 508.77 140.05 509.41 139.81 510.05 139.58 510.69 139.34 511.33 139.09 511.97 138.84 512.6 138.59 513.23 138.34 513.86 138.08 514.49 137.81 515.12 137.55 515.74 137.27 516.36 137 516.98 136.71 517.6 136.43 518.22 136.14 518.83 135.84 519.44 135.54 520.05 135.23 520.65 134.92 521.26 134.6 521.86 134.27 522.45 133.94 523.05 133.61 523.64 133.26 524.23 132.92 524.81 132.56 525.39 132.2 525.97 131.83 526.54 131.46 527.12 131.08 527.69 130.69 528.25 130.3 528.81 129.9 529.37 129.5 529.93 129.1 530.49 128.69 531.04 128.27 531.59 127.86 532.14 127.44 532.69 127.01 533.24 126.59 533.78 126.16 534.32 125.73 534.86 125.3 535.4 124.87 535.94 124.44 536.48 124.01 537.02 123.57 537.55 123.14 538.09 122.71 538.62 122.28 539.16 121.85 539.69 121.42 540.22 121 540.76 120.58 541.29 120.16 541.83 119.74 542.36 119.32 542.89 118.91 543.43 118.51 543.97 118.11 544.5 117.71" class="cv" stroke="#1fa050" style="stroke-width:2.15"/>
</g>
<line x1="369.2" y1="97.3" x2="380.7" y2="104.6" class="ld"/>
<line x1="412.9" y1="112" x2="424.1" y2="121" class="ld"/>
<line x1="470.9" y1="97.5" x2="481.9" y2="106.8" class="ld"/>
<line x1="491.5" y1="146.2" x2="500.5" y2="157.3" class="ld"/>
<rect x="320" y="8" width="224.5" height="222.7" fill="none" stroke="#000" stroke-width="1.6"/>
<line x1="328.5" y1="230.5" x2="328.5" y2="225.6" class="tk"/>
<line x1="341.1" y1="230.5" x2="341.1" y2="227.4" class="tk"/>
<line x1="353.7" y1="230.5" x2="353.7" y2="227.4" class="tk"/>
<line x1="366.3" y1="230.5" x2="366.3" y2="227.4" class="tk"/>
<line x1="378.9" y1="230.5" x2="378.9" y2="225.6" class="tk"/>
<line x1="404.1" y1="230.5" x2="404.1" y2="227.4" class="tk"/>
<line x1="416.7" y1="230.5" x2="416.7" y2="227.4" class="tk"/>
<line x1="429.3" y1="230.5" x2="429.3" y2="225.6" class="tk"/>
<line x1="441.9" y1="230.5" x2="441.9" y2="227.4" class="tk"/>
<line x1="467.1" y1="230.5" x2="467.1" y2="227.4" class="tk"/>
<line x1="479.7" y1="230.5" x2="479.7" y2="225.6" class="tk"/>
<line x1="492.3" y1="230.5" x2="492.3" y2="227.4" class="tk"/>
<line x1="504.9" y1="230.5" x2="504.9" y2="227.4" class="tk"/>
<line x1="517.5" y1="230.5" x2="517.5" y2="227.4" class="tk"/>
<line x1="530.1" y1="230.5" x2="530.1" y2="225.6" class="tk"/>
<line x1="542.7" y1="230.5" x2="542.7" y2="227.4" class="tk"/>
<line x1="320" y1="229.96" x2="324.7" y2="229.96" class="tk"/>
<line x1="320" y1="202.21" x2="323.2" y2="202.21" class="tk"/>
<line x1="320" y1="174.46" x2="324.7" y2="174.46" class="tk"/>
<line x1="320" y1="146.71" x2="323.2" y2="146.71" class="tk"/>
<line x1="320" y1="118.96" x2="324.7" y2="118.96" class="tk"/>
<line x1="320" y1="91.21" x2="323.2" y2="91.21" class="tk"/>
<line x1="320" y1="63.46" x2="324.7" y2="63.46" class="tk"/>
<line x1="320" y1="35.71" x2="323.2" y2="35.71" class="tk"/>
<line x1="320" y1="7.96" x2="324.7" y2="7.96" class="tk"/>
<text x="51.4" y="245.2" font-size="12.5" text-anchor="middle" fill="#000" stroke="#000" stroke-width="0.22">1.2</text>
<text x="94.6" y="245.2" font-size="12.5" text-anchor="middle" fill="#000" stroke="#000" stroke-width="0.22">1.4</text>
<text x="137" y="245.2" font-size="12.5" text-anchor="middle" fill="#000" stroke="#000" stroke-width="0.22">1.6</text>
<text x="180" y="245.2" font-size="12.5" text-anchor="middle" fill="#000" stroke="#000" stroke-width="0.22">1.8</text>
<text x="223" y="245.2" font-size="12.5" text-anchor="middle" fill="#000" stroke="#000" stroke-width="0.22">2.0</text>
<text x="262.6" y="245.2" font-size="12.5" text-anchor="middle" fill="#000" stroke="#000" stroke-width="0.22">2.2</text>
<text x="38.8" y="228.1" font-size="12.5" text-anchor="end" fill="#000" stroke="#000" stroke-width="0.22">0.0</text>
<text x="38.8" y="139.3" font-size="12.5" text-anchor="end" fill="#000" stroke="#000" stroke-width="0.22">0.5</text>
<text x="38.8" y="51.1" font-size="12.5" text-anchor="end" fill="#000" stroke="#000" stroke-width="0.22">1.0</text>
<text x="154.2" y="261.9" font-size="15" text-anchor="middle" fill="#000" stroke="#000" stroke-width="0.22">Energy (eV)</text>
<text x="16" y="121.1" font-size="14.9" text-anchor="middle" fill="#000" stroke="#000" stroke-width="0.22" transform="rotate(-90 16 121.1)">Normalized PL intensiy (arb. units)</text>
<text x="76.3" y="36.2" font-size="13.3" text-anchor="start" fill="#000" stroke="#000" stroke-width="0.22">indirect</text>
<text x="180.4" y="36.4" font-size="13.3" text-anchor="start" fill="#000" stroke="#000" stroke-width="0.22">direct</text>
<text x="249.4" y="27.1" font-size="14.8" text-anchor="middle" fill="#000" stroke="#000" stroke-width="0.08">(a)</text>
<text x="330.3" y="245.2" font-size="12.5" text-anchor="middle" fill="#000" stroke="#000" stroke-width="0.22">0.8</text>
<text x="381.5" y="245.2" font-size="12.5" text-anchor="middle" fill="#000" stroke="#000" stroke-width="0.22">1.2</text>
<text x="432.5" y="245.2" font-size="12.5" text-anchor="middle" fill="#000" stroke="#000" stroke-width="0.22">1.6</text>
<text x="483.3" y="245.2" font-size="12.5" text-anchor="middle" fill="#000" stroke="#000" stroke-width="0.22">2.0</text>
<text x="534" y="245.2" font-size="12.5" text-anchor="middle" fill="#000" stroke="#000" stroke-width="0.22">2.4</text>
<text x="318" y="235.56" font-size="12.5" text-anchor="end" fill="#000" stroke="#000" stroke-width="0.22">5</text>
<text x="318" y="180.06" font-size="12.5" text-anchor="end" fill="#000" stroke="#000" stroke-width="0.22">10</text>
<text x="318" y="124.56" font-size="12.5" text-anchor="end" fill="#000" stroke="#000" stroke-width="0.22">15</text>
<text x="318" y="69.06" font-size="12.5" text-anchor="end" fill="#000" stroke="#000" stroke-width="0.22">20</text>
<text x="318" y="13.56" font-size="12.5" text-anchor="end" fill="#000" stroke="#000" stroke-width="0.22">25</text>
<text x="443.4" y="261.7" font-size="15" text-anchor="middle" fill="#000" stroke="#000" stroke-width="0.22">Energy (eV)</text>
<text x="297.4" y="121.6" font-size="14.7" text-anchor="middle" fill="#000" stroke="#000" stroke-width="0.22" transform="rotate(-90 297.4 121.6)">Azimuthal angular number of WGM</text>
<text x="344.5" y="36.5" font-size="13.3" text-anchor="start" fill="#000" stroke="#000" stroke-width="0.22">indirect</text>
<text x="458.6" y="60.5" font-size="13.3" text-anchor="start" fill="#000" stroke="#000" stroke-width="0.22">direct</text>
<text x="529.4" y="27.1" font-size="14.8" text-anchor="middle" fill="#000" stroke="#000" stroke-width="0.08">(b)</text>
<text x="332" y="79.6" font-size="12.5" text-anchor="start" fill="#333" stroke="#333" stroke-width="0.22">R=1μm</text>
<text x="332" y="93" font-size="12.5" text-anchor="start" fill="#333" stroke="#333" stroke-width="0.22">N=100</text>
<text x="396.2" y="93.7" font-size="12.6" text-anchor="start" fill="#e8231a" stroke="#e8231a" stroke-width="0.22">R=1μm</text>
<text x="396.2" y="107" font-size="12.6" text-anchor="start" fill="#e8231a" stroke="#e8231a" stroke-width="0.22">N=40</text>
<text x="466.2" y="121.7" font-size="12.3" text-anchor="start" fill="#2233bb" stroke="#2233bb" stroke-width="0.22">R=0.5μm</text>
<text x="466.2" y="134.7" font-size="12.3" text-anchor="start" fill="#2233bb" stroke="#2233bb" stroke-width="0.22">N=100</text>
<text x="487.2" y="171.6" font-size="12.3" text-anchor="start" fill="#2a8a3a" stroke="#2a8a3a" stroke-width="0.22">R=0.5μm</text>
<text x="487.2" y="185.1" font-size="12.3" text-anchor="start" fill="#2a8a3a" stroke="#2a8a3a" stroke-width="0.22">N=40</text>
</svg>
</body></html>
